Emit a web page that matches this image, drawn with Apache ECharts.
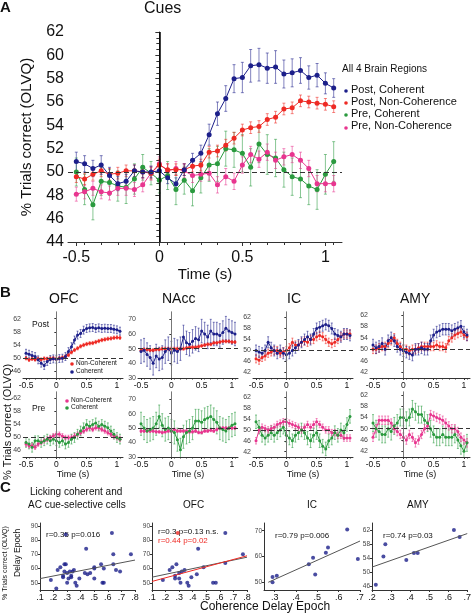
<!DOCTYPE html><html><head><meta charset="utf-8">
<script src="https://cdn.jsdelivr.net/npm/echarts@6/dist/echarts.min.js"></script>
<style>html,body{margin:0;padding:0;background:#fff}#c{width:474px;height:614px}</style></head><body><div id="c"></div>
<script>
// ---------- DATA ----------
const timeA = [-0.5,-0.45,-0.4,-0.35,-0.3,-0.25,-0.2,-0.15,-0.1,-0.05,0,0.05,0.1,0.15,0.2,0.25,0.3,0.35,0.4,0.45,0.5,0.55,0.6,0.65,0.7,0.75,0.8,0.85,0.9,0.95,1.0,1.05];
const aPostCoh = [50.9,50.7,50.3,50.6,49.7,49.0,49.2,50.1,50.0,50.0,50.1,49.5,49.0,50.2,51.0,51.6,53.2,55.0,56.3,58.0,58.1,59.1,59.2,58.9,59.0,58.4,58.5,58.7,58.1,58.3,57.6,57.2];
const aPostCohErr = [0.8,0.7,0.7,0.8,0.7,0.6,0.6,0.5,0.5,0.5,0.6,0.5,0.5,0.5,0.6,0.7,0.9,1.0,1.1,1.2,1.3,1.4,1.4,1.3,1.4,1.2,1.2,1.1,1.0,1.0,0.9,0.8];
const aPostNon = [49.6,49.4,49.8,50.1,49.8,49.9,50.1,50.1,50.0,49.9,50.6,50.2,50.2,50.2,50.5,50.6,51.7,51.8,52.3,52.9,53.6,53.8,53.9,54.5,54.7,55.4,55.5,56.1,56.0,55.9,55.8,55.6];
const aPostNonErr = [0.5,0.5,0.5,0.5,0.5,0.5,0.5,0.5,0.5,0.5,0.5,0.5,0.5,0.5,0.5,0.5,0.5,0.5,0.5,0.5,0.5,0.5,0.5,0.5,0.5,0.5,0.5,0.5,0.5,0.5,0.5,0.5];
const aPreCoh = [50.0,48.5,47.2,49.2,49.1,48.8,48.7,49.4,50.4,49.9,49.3,49.7,48.5,49.3,48.4,49.5,50.6,50.7,52.0,51.9,51.6,50.4,52.4,51.5,51.2,50.2,49.6,49.4,48.8,48.5,49.8,50.9];
const aPreCohErr = [1.2,1.3,1.3,1.2,1.1,1.3,1.4,1.3,1.1,1.0,1.1,1.2,1.3,1.2,1.3,1.3,1.4,1.5,1.5,1.5,1.6,1.6,1.6,1.7,1.6,1.5,1.6,1.6,1.6,1.7,1.7,1.7];
const aPreNon = [48.1,48.3,48.6,48.3,48.2,48.6,48.6,48.5,48.9,49.9,50.7,50.1,50.3,50.1,49.7,49.8,49.9,48.9,49.6,49.2,50.6,51.5,51.1,51.7,51.0,51.3,51.5,51.0,50.3,49.0,49.0,49.0];
const aPreNonErr = [0.6,0.6,0.6,0.6,0.6,0.6,0.6,0.6,0.6,0.6,0.6,0.6,0.6,0.6,0.6,0.6,0.6,0.7,0.7,0.7,0.7,0.7,0.7,0.7,0.7,0.7,0.7,0.7,0.7,0.7,0.7,0.7];

const regions = ['OFC','NAcc','IC','AMY'];
const bPostCoh = {
 OFC:[51.5,51.2,50.8,50.5,49.5,48.5,47.8,49.0,49.6,49.8,49.7,49.9,50.0,50.5,52.0,53.5,55.5,57.0,57.5,58.5,59.0,59.2,59.3,59.0,59.2,59.0,59.1,59.0,59.0,58.8,58.6,58.2],
 NAcc:[48,49,46,44,40,45,43,44,48,50,47,49,48,50,58,54,53,55,57,56,62,60,58,62,60,60,59,61,64,62,61,60],
 IC:[50,49.5,49,50,53,51,50,49,50,49,48.5,49,50,51,52,53,54,55,54,56,58,58.5,59,59.5,59,58,56,55.5,55,56,56,55.5],
 AMY:[51.5,50.5,51,52,50,53,54,53,51,50,49.5,49,48.5,48,50,50,50.5,50,50,53,55,56,56.5,57,57,57,56.5,57,57.5,58,56,55]
};
const bPostNon = {
 OFC:[50.0,49.5,49.8,49.6,49.8,49.6,49.9,49.8,49.9,50.0,49.8,50.0,50.2,50.5,51.0,51.8,52.5,53.0,53.6,54.0,54.3,54.5,54.6,54.9,55.2,55.5,55.7,55.9,56.0,56.2,56.3,56.2],
 NAcc:[49,49.5,49.5,49,49,49.5,49.5,50,50,50,50,50,50,50,50,50.5,51,51,51,51.5,52,52.5,53,53,54,54,54.5,55,55,55,54.5,54.5],
 IC:[47,46.5,47.5,48,49,49.5,50,50,49,49.5,50,51,53,52,52,53,53.5,53,54,54,55,55.5,55,54,53,52.5,53,54,55,56,56,56],
 AMY:[50,50,50.5,51,51,52,53,54,52,51,50,50,49.5,50,50,50.5,51,51,51,51,51,51.5,51,51,50.5,53,54,55,55.5,56,55,54.5]
};
const bPreCoh = {
 OFC:[48.5,48,47,49,49,48.5,49,49.5,49,49.5,49,48.5,49,48,48.5,49.5,50,51,52,53,54,53.5,54,54.5,53.5,54,53.5,53,52,51,50,49.5],
 NAcc:[53,50,48,49,50,53,58,52,49,50,48,47,42,35,44,47,48,50,55,55,54,56,57,58,56,54,50,49,48,50,52,53],
 IC:[53,51,48,47,48,49,48,49,50,51,48,47,46,48,49,50,49,47,46,48,49,46,44,43,46,47,49,48,50,49,52,55],
 AMY:[52,50,49,48,48,50,49,51,52,54,54,53,54,57,56,55,55,53,52,50,48,47,47,48,47,47,47,48,46,44,42,45]
};
const bPreNon = {
 OFC:[48,47.5,47.5,47,48,48.5,49,49.5,50,50.5,51,51,50.5,50,50,50,50.5,51,51.5,52,52.5,53,52.5,53,53,52.5,52,51.5,51,50.5,50,49.5],
 NAcc:[48,48,48,48,48,47.5,47.5,47,47.5,48,48,49,48,48,48,48,47.5,47.5,48,47,47,48,48,48.5,48,49,50,50,50,50,50,50],
 IC:[46,50,51,50.5,50,50.5,51,52,52.5,53,53,52.5,52,51.5,51,50,51,52,51,52,53,52,51,50,50,49,49,48,48,47,47,47],
 AMY:[47,50,53,53,53,53,52,50,49,48,47,46,48,47,45,46,48,50,51,55,54.5,54,53.5,53,52,51,50,50,49,47,46,45]
};
const bPostErr = {OFC:[1.2,0.5],NAcc:[8,1],IC:[2,1.5],AMY:[2,1.5]}; // [coherent, non-coherent]
const bPreErr = {OFC:[1.5,0.7],NAcc:[8,1],IC:[2.5,1.2],AMY:[3,1.5]};
const bYRange = {OFC:[44,64],NAcc:[30,75],IC:[40,64],AMY:[40,63]};
const bYTicks = {OFC:[46,50,54,58,62],NAcc:[30,40,50,60,70],IC:[42,46,50,54,58,62],AMY:[42,46,50,54,58,62]};

const cAllPts = [[0.18,52],[0.22,46],[0.23,59],[0.25,61],[0.27,55],[0.27,54],[0.28,63],[0.28,58],[0.29,84],[0.29,63],[0.3,57],[0.3,50],[0.31,53],[0.32,58],[0.33,55],[0.33,54],[0.34,58],[0.35,59],[0.36,50],[0.37,48],[0.39,53],[0.43,57],[0.44,74],[0.45,56],[0.47,57],[0.5,53],[0.5,60],[0.5,61],[0.55,63],[0.56,50],[0.57,50],[0.57,60],[0.63,85],[0.64,70],[0.64,63],[0.66,59],[0.69,58],[0.77,70]];
const cAllFit = [[0.1,53],[0.8,66]];
const cOfcPts = [[0.18,52],[0.23,59],[0.25,61],[0.27,53],[0.27,55],[0.28,63],[0.3,57],[0.3,53],[0.31,50],[0.32,58],[0.34,59],[0.36,50],[0.37,48],[0.39,54],[0.43,56],[0.44,74],[0.48,61],[0.55,50],[0.57,50],[0.64,85],[0.64,64],[0.77,70]];
const cOfcRedPts = [[0.29,85]];
const cOfcFit = [[0.1,54],[0.8,68]];
const cOfcRedFit = [[0.1,51],[0.8,69]];
const cIcPts = [[0.29,50],[0.29,52],[0.31,52.5],[0.46,57],[0.48,59.5],[0.49,53],[0.54,61.5],[0.55,63.5],[0.64,70.5],[0.69,59]];
const cIcFit = [[0.27,50],[0.7,66]];
const cAmyPts = [[0.22,46.5],[0.26,54.5],[0.27,58],[0.38,53.5],[0.42,55.5],[0.44,55.5],[0.63,62],[0.66,60]];
const cAmyFit = [[0.2,51.5],[0.7,61]];

// ---------- BUILD ----------
const F = 'Liberation Sans';
const C = {blue:'#1c1f8a', red:'#ee2a24', green:'#2a9a3e', pink:'#e8358f'};
const grids=[], xAxes=[], yAxes=[], series=[];
let gi=0;
function addGrid(g, x, y){ grids.push(g); xAxes.push(Object.assign({gridIndex:gi,type:'value'},x)); yAxes.push(Object.assign({gridIndex:gi,type:'value'},y)); return gi++; }
function errSeries(idx, xs, ys, errs, color, w){
  series.push({type:'custom',xAxisIndex:idx,yAxisIndex:idx,silent:true,z:1,clip:true,
    data:xs.map((x,i)=>[x,ys[i],Array.isArray(errs)?errs[i]:errs]),
    renderItem:(p,api)=>{const x=api.value(0),y=api.value(1),e=api.value(2);
      const a=api.coord([x,y-e]),b=api.coord([x,y+e]);
      return {type:'group',children:[
        {type:'line',shape:{x1:a[0],y1:a[1],x2:b[0],y2:b[1]},style:{stroke:color,lineWidth:0.8,opacity:0.7}},
        {type:'line',shape:{x1:a[0]-w,y1:a[1],x2:a[0]+w,y2:a[1]},style:{stroke:color,lineWidth:0.8,opacity:0.7}},
        {type:'line',shape:{x1:b[0]-w,y1:b[1],x2:b[0]+w,y2:b[1]},style:{stroke:color,lineWidth:0.8,opacity:0.7}}]};}});
}
function lineSeries(idx, xs, ys, color, sym, name){
  series.push({type:'line',name:name,xAxisIndex:idx,yAxisIndex:idx,data:xs.map((x,i)=>[x,ys[i]]),
    symbol:'circle',symbolSize:sym,itemStyle:{color:color},lineStyle:{color:color,width:1},z:3,animation:false});
}
function refLines(idx, w){
  series.push({type:'line',xAxisIndex:idx,yAxisIndex:idx,data:[],silent:true,
    markLine:{silent:true,symbol:'none',label:{show:false},animation:false,
      data:[{yAxis:50,lineStyle:{type:[5,3],color:'#333',width:1}},{xAxis:0,lineStyle:{type:'solid',color:w>1.2?'#000':'#777',width:w}}]}});
}
const axLine={show:true,lineStyle:{color:'#333',width:1}};

// Panel A
let a = addGrid({left:68,top:32,width:274,height:210},
  {min:-0.55,max:1.1,interval:0.5,axisLine:axLine,minorTick:{show:true,splitNumber:5},splitLine:{show:false},
   axisLabel:{fontFamily:F,fontSize:16,color:'#111',customValues:[-0.5,0,0.5,1],formatter:v=>String(v)},
   axisTick:{show:true,length:4,customValues:[-0.5,0,0.5,1]},name:'Time (s)',nameLocation:'middle',nameGap:24,nameTextStyle:{fontFamily:F,fontSize:15,color:'#111'}},
  {min:44,max:62,interval:2,axisLine:axLine,axisTick:{show:true,length:4},minorTick:{show:true,splitNumber:4},splitLine:{show:false},
   axisLabel:{fontFamily:F,fontSize:16,color:'#111',margin:4},name:'% Trials correct (OLVQ)',nameLocation:'middle',nameGap:34,nameTextStyle:{fontFamily:F,fontSize:15,color:'#111'}});
refLines(a,1.5);
errSeries(a,timeA,aPreCoh,aPreCohErr,C.green,1.5);
errSeries(a,timeA,aPreNon,aPreNonErr,C.pink,1.5);
errSeries(a,timeA,aPostNon,aPostNonErr,C.red,1.5);
errSeries(a,timeA,aPostCoh,aPostCohErr,C.blue,1.5);
lineSeries(a,timeA,aPreCoh,C.green,5,'Pre, Coherent');
lineSeries(a,timeA,aPreNon,C.pink,5,'Pre, Non-Coherence');
lineSeries(a,timeA,aPostNon,C.red,5,'Post, Non-Coherence');
lineSeries(a,timeA,aPostCoh,C.blue,5,'Post, Coherent');

// Panel B
const bLeft=[23,138,253,370], bW=100;
const smallX = (show)=>({min:-0.55,max:1.1,axisLine:axLine,splitLine:{show:false},axisTick:{show:true,length:2,customValues:[-0.5,0,0.5,1]},
  minorTick:{show:true,splitNumber:5,length:1.5},interval:0.5,
  axisLabel:{fontFamily:F,fontSize:8.5,color:'#111',margin:3,customValues:[-0.5,0,0.5,1],formatter:v=>String(v)},
  name:show?'Time (s)':'',nameLocation:'middle',nameGap:12,nameTextStyle:{fontFamily:F,fontSize:9,color:'#111'}});
regions.forEach((r,k)=>{
  const yr=bYRange[r], yt=bYTicks[r];
  const ya={min:yr[0],max:yr[1],axisLine:axLine,splitLine:{show:false},axisTick:{show:true,length:2,customValues:yt},
    axisLabel:{fontFamily:F,fontSize:7,color:'#444',margin:2,customValues:yt}};
  let p=addGrid({left:bLeft[k],top:312,width:bW,height:66},smallX(false),Object.assign({},ya));
  refLines(p,1);
  errSeries(p,timeA,bPostNon[r],bPostErr[r][1],C.red,1);
  errSeries(p,timeA,bPostCoh[r],bPostErr[r][0],C.blue,1);
  lineSeries(p,timeA,bPostNon[r],C.red,3);
  lineSeries(p,timeA,bPostCoh[r],C.blue,3);
  let q=addGrid({left:bLeft[k],top:392,width:bW,height:65},smallX(true),Object.assign({},ya));
  refLines(q,1);
  errSeries(q,timeA,bPreCoh[r],bPreErr[r][0],C.green,1);
  errSeries(q,timeA,bPreNon[r],bPreErr[r][1],C.pink,1);
  lineSeries(q,timeA,bPreNon[r],C.pink,3);
  lineSeries(q,timeA,bPreCoh[r],C.green,3);
});

// Panel C
const cDefs=[
 {left:40,w:95,x:[0.1,0.8],y:[45,92,10],ymin:50,pts:cAllPts,fit:cAllFit},
 {left:152,w:95,x:[0.1,0.8],y:[45,92,10],ymin:50,pts:cOfcPts,fit:cOfcFit,red:cOfcRedPts,redFit:cOfcRedFit},
 {left:264,w:96,x:[0.25,0.7],y:[47,73,10],ymin:50,pts:cIcPts,fit:cIcFit,xv:[0.3,0.4,0.5,0.6,0.7]},
 {left:372,w:100,x:[0.2,0.7],y:[45,64,4],ymin:46,pts:cAmyPts,fit:cAmyFit}];
cDefs.forEach(d=>{
  const xv = d.xv || (()=>{const o=[];for(let v=Math.round(d.x[0]*10);v<=Math.round(d.x[1]*10);v++)o.push(v/10);return o;})();
  const yv=[];for(let v=d.ymin;v<=d.y[1];v+=d.y[2])yv.push(v);
  let p=addGrid({left:d.left,top:523,width:d.w,height:67},
   {min:d.x[0],max:d.x[1],axisLine:axLine,splitLine:{show:false},axisTick:{show:true,length:2,customValues:xv},
    axisLabel:{fontFamily:F,fontSize:9,color:'#111',margin:3,customValues:xv,formatter:v=>String(+v.toFixed(1)).replace(/^0/,'')}},
   {min:d.y[0],max:d.y[1],axisLine:axLine,splitLine:{show:false},axisTick:{show:true,length:2,customValues:yv},
    axisLabel:{fontFamily:F,fontSize:6.5,color:'#444',margin:2,customValues:yv}});
  series.push({type:'scatter',xAxisIndex:p,yAxisIndex:p,data:d.pts,symbolSize:4,itemStyle:{color:C.blue},animation:false});
  series.push({type:'line',xAxisIndex:p,yAxisIndex:p,data:d.fit,symbol:'none',lineStyle:{color:'#555',width:1},animation:false});
  if(d.red){
    series.push({type:'scatter',xAxisIndex:p,yAxisIndex:p,data:d.red,symbolSize:4,itemStyle:{color:C.red},animation:false});
    series.push({type:'line',xAxisIndex:p,yAxisIndex:p,data:d.redFit,symbol:'none',lineStyle:{color:C.red,width:1},animation:false});
  }
});

function txt(x,y,s,size,o){return Object.assign({type:'text',left:x,top:y,style:{text:s,fontFamily:F,fontSize:size,fill:'#111'}},o||{});}
function dot(x,y,c){return {type:'circle',shape:{cx:x,cy:y,r:1.8},style:{fill:c}};}
const graphic=[
 txt(0,0,'A',15,{style:{text:'A',fontFamily:F,fontSize:15,fontWeight:'bold',fill:'#111'}}),
 txt(144,1,'Cues',16),
 txt(342,64,'All 4 Brain Regions',10),
 dot(346,91,C.blue),txt(351,84,'Post, Coherent',11),
 dot(346,103,C.red),txt(351,96,'Post, Non-Coherence',11),
 dot(346,115,C.green),txt(351,108,'Pre, Coherent',11),
 dot(346,128,C.pink),txt(351,120,'Pre, Non-Coherence',11),
 txt(0,285,'B',15,{style:{text:'B',fontFamily:F,fontSize:15,fontWeight:'bold',fill:'#111'}}),
 txt(49,292,'OFC',14),txt(162,292,'NAcc',14),txt(287,292,'IC',14),txt(400,292,'AMY',14),
 txt(32,320,'Post',8.5),txt(32,404,'Pre',8.5),
 dot(72,364,C.red),txt(76,360,'Non-Coherent',6.5),dot(72,372,C.blue),txt(76,368,'Coherent',6.5),
 dot(67,401,C.pink),txt(71,397,'Non-Coherent',6.5),dot(67,408,C.green),txt(71,404,'Coherent',6.5),
 {type:'text',rotation:Math.PI/2,x:2,y:480,style:{text:'% Trials correct (OLVQ)',fontFamily:F,fontSize:11,fill:'#111'}},
 txt(0,480,'C',15,{style:{text:'C',fontFamily:F,fontSize:15,fontWeight:'bold',fill:'#111'}}),
 txt(30,487,'Licking coherent and',10),txt(28,500,'AC cue-selective cells',10),
 txt(183,500,'OFC',10),txt(307,500,'IC',10),txt(407,500,'AMY',10),
 txt(46,531,'r=0.35 p=0.016',8),
 txt(158,528,'r=0.3 p=0.13 n.s.',8),txt(158,537,'r=0.44 p=0.02',8,{style:{text:'r=0.44 p=0.02',fontFamily:F,fontSize:8,fill:C.red}}),
 txt(275,532,'r=0.79 p=0.006',8),txt(383,532,'r=0.74 p=0.03',8),
 txt(200,601,'Coherence Delay Epoch',12),
 {type:'text',rotation:Math.PI/2,x:2,y:600,style:{text:'% Trials correct (OLVQ)',fontFamily:F,fontSize:7,fill:'#111'}},
 {type:'text',rotation:Math.PI/2,x:13,y:577,style:{text:'Delay Epoch',fontFamily:F,fontSize:8.5,fill:'#111'}}
];
const chart=echarts.init(document.getElementById('c'));
chart.setOption({animation:false,grid:grids,xAxis:xAxes,yAxis:yAxes,series:series,graphic:graphic});
</script></body></html>
